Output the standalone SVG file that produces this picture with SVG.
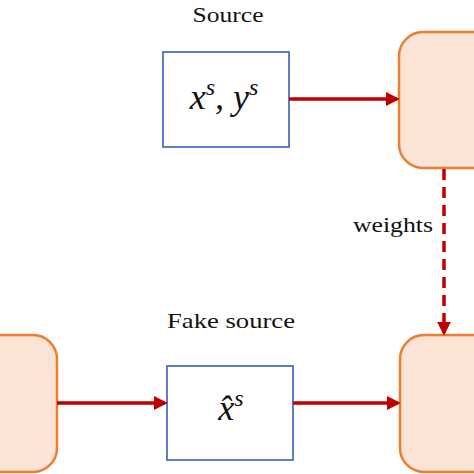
<svg xmlns="http://www.w3.org/2000/svg" width="474" height="474" viewBox="0 0 474 474">
<style>
.orange{fill:#fbe3d5;stroke:#ec7d31;stroke-width:2.5}
.blue{fill:#ffffff;stroke:#4a72c2;stroke-width:1.8}
.conn{stroke:#c00000;stroke-width:3.5;fill:none}
.lbl{font-family:"Liberation Serif","DejaVu Serif",serif;font-size:22px;fill:#111}
.math{font-family:"Liberation Serif","DejaVu Serif",serif;font-style:italic;fill:#111}
</style>
<defs>
<marker id="ah" markerWidth="4" markerHeight="4" refX="3.2" refY="2" orient="auto" markerUnits="strokeWidth">
<path d="M0,0 L4,2 L0,4 Z" fill="#c00000"/>
</marker>
</defs>
<rect width="474" height="474" fill="#ffffff"/>
<g id="node-top-right"><rect class="orange" x="399" y="32" width="110" height="136" rx="24"/></g>
<g id="node-bottom-right"><rect class="orange" x="400" y="335" width="110" height="137" rx="24"/></g>
<g id="node-bottom-left"><rect class="orange" x="-50" y="335" width="107" height="137" rx="24"/></g>
<g id="node-source">
<rect class="blue" x="163" y="52" width="126" height="95"/>
<text class="math" x="224" y="109" text-anchor="middle" font-size="36">x<tspan font-size="24" dy="-14">s</tspan><tspan dy="14">, y</tspan><tspan font-size="24" dy="-14">s</tspan></text>
</g>
<g id="node-fake">
<rect class="blue" x="167" y="366" width="126" height="94"/>
<text class="math" x="231" y="420" text-anchor="middle" font-size="36">x̂<tspan font-size="24" dy="-14">s</tspan></text>
</g>
<g id="labels">
<text class="lbl" x="228" y="22" text-anchor="middle" textLength="71" lengthAdjust="spacingAndGlyphs">Source</text>
<text class="lbl" x="231" y="328" text-anchor="middle" textLength="128" lengthAdjust="spacingAndGlyphs">Fake source</text>
<text class="lbl" x="393" y="232" text-anchor="middle" textLength="80" lengthAdjust="spacingAndGlyphs">weights</text>
</g>
<g id="connectors">
<line class="conn" x1="289" y1="99" x2="397" y2="99" marker-end="url(#ah)"/>
<line class="conn" x1="444" y1="169" x2="444" y2="333" stroke-dasharray="11,7" marker-end="url(#ah)"/>
<line class="conn" x1="57" y1="403" x2="165" y2="403" marker-end="url(#ah)"/>
<line class="conn" x1="293" y1="403" x2="398" y2="403" marker-end="url(#ah)"/>
</g>
</svg>
